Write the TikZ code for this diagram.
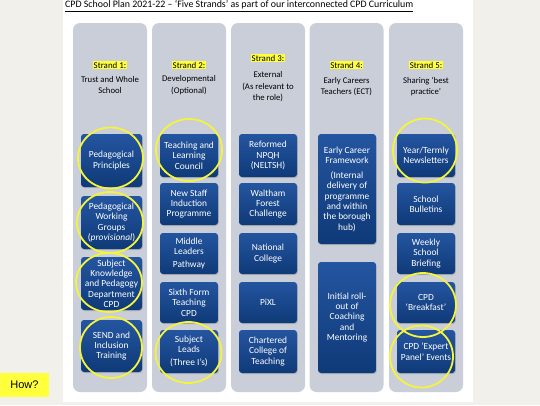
\documentclass[tikz,border=0pt]{standalone}
\usepackage{fontspec}
\setmainfont{Carlito}
\newfontfamily\howfont{Liberation Sans}
\usetikzlibrary{shapes.geometric,shadows}
\definecolor{bgbeige}{HTML}{F1F0EA}
\definecolor{colgrey}{HTML}{CACED9}
\definecolor{boxtop}{HTML}{2455A0}
\definecolor{boxbot}{HTML}{0F3A78}
\definecolor{hiyel}{HTML}{FFFF3C}
\definecolor{ringyel}{HTML}{F4F43A}
\tikzset{
  bx/.style={rectangle, rounded corners=3pt, top color=boxtop, bottom color=boxbot,
    text=white, align=center, font=\fontsize{9.4}{10.3}\selectfont, inner sep=0.5pt,
    drop shadow={shadow xshift=0.8pt, shadow yshift=-1pt, opacity=0.35}},
  strandlbl/.style={fill=hiyel, inner sep=0.6pt, font=\fontsize{8.9}{11}\selectfont},
  hdr/.style={align=center, font=\fontsize{8.7}{11.5}\selectfont, inner sep=0pt},
  ring/.style={ellipse, draw=ringyel, line width=1.8pt, inner sep=0pt},
}
\begin{document}
\begin{tikzpicture}[x=1pt,y=-1pt]
\useasboundingbox (0,0) rectangle (540,405);
\fill[bgbeige] (0,0) rectangle (540,405);
\fill[white] (63,0) rectangle (473,402);
\node[anchor=west, inner sep=0pt, font=\fontsize{9.9}{11}\selectfont] (title) at (65,6)
  {\underline{CPD School Plan 2021-22 – ‘Five Strands’ as part of our interconnected CPD Curriculum}};
% columns
\foreach \cx in {110,189,268,346.5,426}{
  \fill[colgrey, rounded corners=7pt] (\cx-37,23) rectangle (\cx+37,392);
}
% headers
\node[strandlbl] (s1) at (110,65) {Strand 1:};
\node[hdr] (h1) at (110,85) {Trust and Whole\\School};
\node[strandlbl] (s2) at (189,65) {Strand 2:};
\node[hdr] (h2) at (189,85) {Developmental\\(Optional)};
\node[strandlbl] (s3) at (268,58) {Strand 3:};
\node[hdr] (h3) at (268,87) {External\\(As relevant to\\the role)};
\node[strandlbl] (s4) at (346.5,65) {Strand 4:};
\node[hdr] (h4) at (346.5,86.5) {Early Careers\\Teachers (ECT)};
\node[strandlbl] (s5) at (426,65) {Strand 5:};
\node[hdr] (h5) at (426,86.5) {Sharing ‘best\\practice’};
% column 1
\node[bx, minimum width=61, minimum height=53] (pp) at (111.5,160.5) {Pedagogical\\Principles};
\node[bx, minimum width=61, minimum height=53] (pwg) at (111.5,222.5) {Pedagogical\\Working\\Groups\\(\textit{provisional})};
\node[bx, minimum width=61, minimum height=53] (skp) at (111.5,283.5) {Subject\\Knowledge\\and Pedagogy\\Department\\CPD};
\node[bx, minimum width=61, minimum height=52] (send) at (111.5,346) {SEND and\\Inclusion\\Training};
% column 2
\node[bx, minimum width=58, minimum height=43] (tlc) at (189,155.5) {Teaching and\\Learning\\Council};
\node[bx, minimum width=58, minimum height=42] (nsi) at (189,204) {New Staff\\Induction\\Programme};
\node[bx, minimum width=58, minimum height=41] (mlp) at (189,253.5) {Middle\\Leaders\\[3pt]Pathway};
\node[bx, minimum width=58, minimum height=41] (sft) at (189,302.5) {Sixth Form\\Teaching\\CPD};
\node[bx, minimum width=58, minimum height=43] (sl) at (189,351.5) {Subject\\Leads\\[3pt](Three I’s)};
% column 3
\node[bx, minimum width=58, minimum height=43] (npqh) at (268,155.5) {Reformed\\NPQH\\(NELTSH)};
\node[bx, minimum width=58, minimum height=42] (wfc) at (268,204) {Waltham\\Forest\\Challenge};
\node[bx, minimum width=58, minimum height=41] (nc) at (268,253.5) {National\\College};
\node[bx, minimum width=58, minimum height=41] (pixl) at (268,302.5) {PiXL};
\node[bx, minimum width=58, minimum height=43] (cct) at (268,351.5) {Chartered\\College of\\Teaching};
% column 4
\node[bx, minimum width=58, minimum height=110] (ecf) at (347,189) {Early Career\\Framework\\[5pt](Internal\\delivery of\\programme\\and within\\the borough\\hub)};
\node[bx, minimum width=58, minimum height=111] (icm) at (347,317.5) {Initial roll-\\out of\\Coaching\\and\\Mentoring};
% column 5
\node[bx, minimum width=58, minimum height=43] (ytn) at (426,155.5) {Year/Termly\\Newsletters};
\node[bx, minimum width=58, minimum height=42] (sb) at (426,204) {School\\Bulletins};
\node[bx, minimum width=58, minimum height=41] (wsb) at (426,253.5) {Weekly\\School\\Briefing};
\node[bx, minimum width=58, minimum height=41] (cpdb) at (426,302.5) {CPD\\‘Breakfast’};
\node[bx, minimum width=58, minimum height=43] (cpde) at (426,351.5) {CPD ‘Expert\\Panel’ Events};
% rings
\node[ring, minimum width=65, minimum height=61] (r1) at (110.5,158) {};
\node[ring, minimum width=66, minimum height=61] (r2) at (110,222.5) {};
\node[ring, minimum width=66, minimum height=59] (r3) at (109,282.5) {};
\node[ring, minimum width=62, minimum height=61] (r4) at (111,347.5) {};
\node[ring, minimum width=66, minimum height=62] (r5) at (189,150) {};
\node[ring, minimum width=66, minimum height=61] (r6) at (188.5,352.5) {};
\node[ring, minimum width=64, minimum height=64] (r7) at (425,150.5) {};
\node[ring, minimum width=66, minimum height=64] (r8) at (423,305) {};
\node[ring, minimum width=63, minimum height=62] (r9) at (421.5,356.5) {};
% How?
\node[fill=hiyel, minimum width=49, minimum height=24, inner sep=0pt, font=\howfont\fontsize{11}{13}\selectfont] (how) at (24.5,385) {How?};
\end{tikzpicture}
\end{document}
